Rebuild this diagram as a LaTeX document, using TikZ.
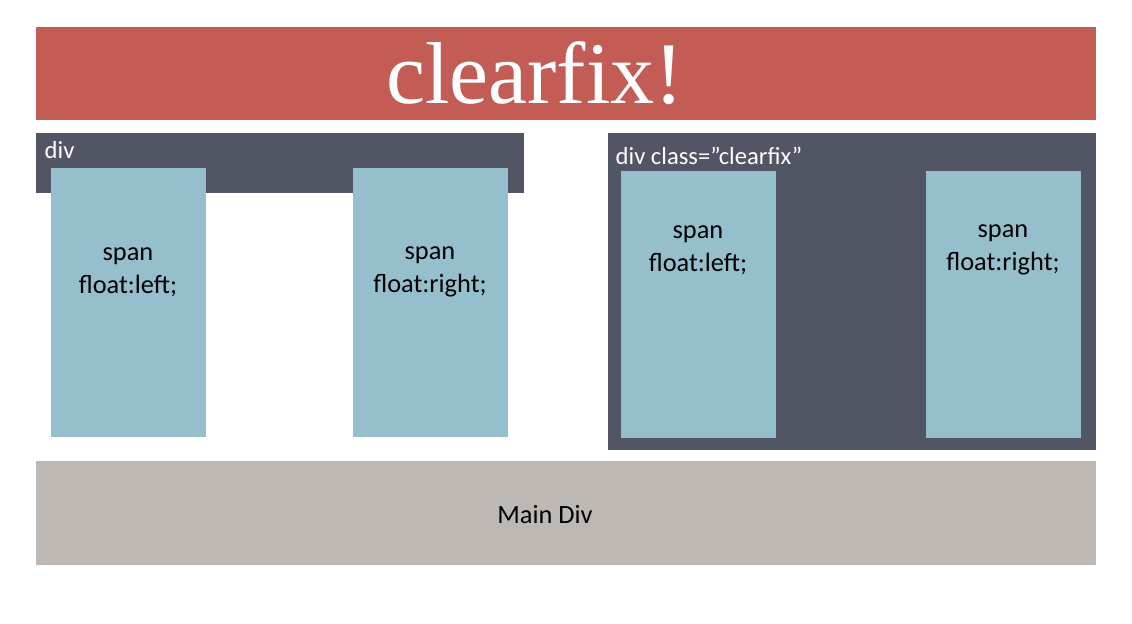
\documentclass[tikz,border=0pt]{standalone}
\usepackage{fontspec}
\setmainfont{Carlito}
\newfontfamily\titlefont{Liberation Serif}
\definecolor{red1}{HTML}{C45C56}
\definecolor{slate}{HTML}{515564}
\definecolor{sky}{HTML}{96BFCE}
\definecolor{stone}{HTML}{BDB8B4}
\begin{document}
\begin{tikzpicture}[x=0.01cm,y=-0.01cm,
  box/.style={draw=none,anchor=north west,inner sep=0,minimum width=#1},
  spanbox/.style={fill=sky,anchor=north west,inner sep=0,minimum width=155*0.01cm,minimum height=#1,align=center,font=\fontsize{8}{10}\selectfont}]
\useasboundingbox (0,0) rectangle (1132,624);
\fill[red1] (36,27) rectangle (1096,120);
\node[text=white,font=\titlefont\fontsize{25}{25}\selectfont] (title) at (535,73) {clearfix!};
\fill[slate] (36,133) rectangle (524,193);
\node[anchor=west,text=white,font=\fontsize{7}{8}\selectfont,inner sep=0] (d1) at (44,150) {div};
\fill[slate] (608,133) rectangle (1096,450);
\node[anchor=west,text=white,font=\fontsize{7}{8}\selectfont,inner sep=0] (d2) at (615,156) {div class="clearfix"};
\fill[sky] (51,168) rectangle (206,437);
\node[align=center,font=\fontsize{7.5}{9.5}\selectfont] (s1) at (128,272) {span\\float:left;};
\fill[sky] (353,168) rectangle (508,437);
\node[align=center,font=\fontsize{7.5}{9.5}\selectfont] (s2) at (430,272) {span\\float:right;};
\fill[sky] (621,171) rectangle (776,438);
\node[align=center,font=\fontsize{7.5}{9.5}\selectfont] (s3) at (698,250) {span\\float:left;};
\fill[sky] (926,171) rectangle (1081,438);
\node[align=center,font=\fontsize{7.5}{9.5}\selectfont] (s4) at (1003,250) {span\\float:right;};
\fill[stone] (36,461) rectangle (1096,565);
\node[font=\fontsize{7.5}{9}\selectfont] (m) at (545,515) {Main Div};
\end{tikzpicture}
\end{document}
